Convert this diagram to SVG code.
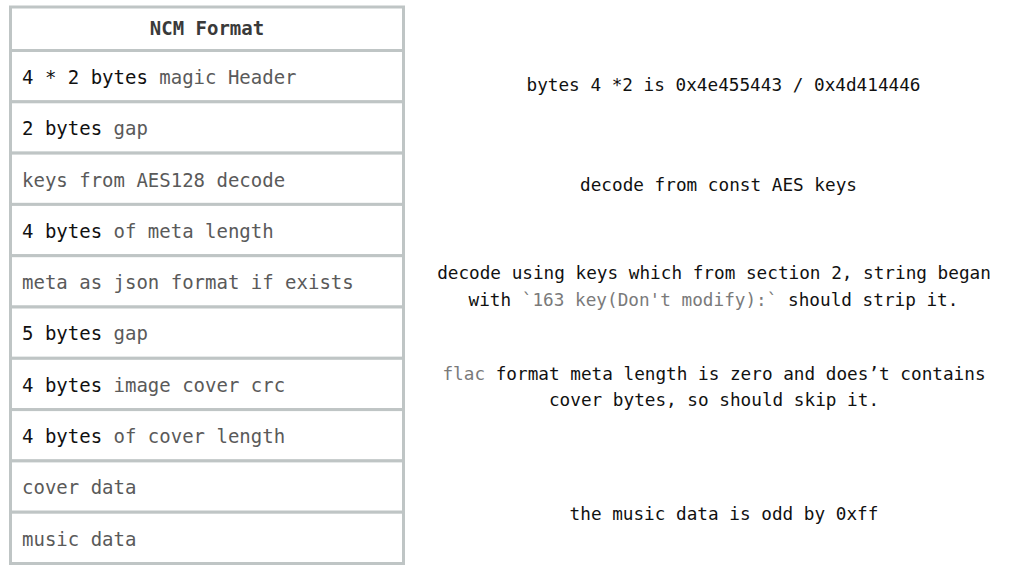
<svg xmlns="http://www.w3.org/2000/svg" width="1016" height="576" viewBox="0 0 1016 576">
<style>
  .cell { fill: #ffffff; stroke: #bfc5c5; stroke-width: 3; }
  .lt { font-family: "DejaVu Sans Mono", "Liberation Mono", monospace; font-size: 19px; fill: #5a5a5a; white-space: pre; }
  .k { fill: #111111; }
  .hd { font-family: "DejaVu Sans Mono", "Liberation Mono", monospace; font-size: 19px; font-weight: bold; fill: #3a3a3a; }
  .rt { font-family: "DejaVu Sans Mono", "Liberation Mono", monospace; font-size: 17.7px; fill: #111111; text-anchor: middle; white-space: pre; }
  .g { fill: #7a7a7a; }
</style>
<rect width="1016" height="576" fill="#ffffff"/>
<g id="table">
  <g id="header"><rect class="cell" x="10.5" y="7" width="393" height="43.5"/><text class="hd" x="207" y="35" text-anchor="middle">NCM Format</text></g>
  <g id="row1"><rect class="cell" x="10.5" y="50.5" width="393" height="51.3"/><text class="lt" x="22" y="84"><tspan class="k">4 * 2 bytes</tspan> magic Header</text></g>
  <g id="row2"><rect class="cell" x="10.5" y="101.8" width="393" height="51.3"/><text class="lt" x="22" y="135"><tspan class="k">2 bytes</tspan> gap</text></g>
  <g id="row3"><rect class="cell" x="10.5" y="153.1" width="393" height="51.3"/><text class="lt" x="22" y="187">keys from AES128 decode</text></g>
  <g id="row4"><rect class="cell" x="10.5" y="204.4" width="393" height="51.3"/><text class="lt" x="22" y="238"><tspan class="k">4 bytes</tspan> of meta length</text></g>
  <g id="row5"><rect class="cell" x="10.5" y="255.7" width="393" height="51.3"/><text class="lt" x="22" y="289">meta as json format if exists</text></g>
  <g id="row6"><rect class="cell" x="10.5" y="307" width="393" height="51.3"/><text class="lt" x="22" y="340"><tspan class="k">5 bytes</tspan> gap</text></g>
  <g id="row7"><rect class="cell" x="10.5" y="358.3" width="393" height="51.3"/><text class="lt" x="22" y="392"><tspan class="k">4 bytes</tspan> image cover crc</text></g>
  <g id="row8"><rect class="cell" x="10.5" y="409.6" width="393" height="51.3"/><text class="lt" x="22" y="443"><tspan class="k">4 bytes</tspan> of cover length</text></g>
  <g id="row9"><rect class="cell" x="10.5" y="460.9" width="393" height="51.3"/><text class="lt" x="22" y="494">cover data</text></g>
  <g id="row10"><rect class="cell" x="10.5" y="512.2" width="393" height="51.3"/><text class="lt" x="22" y="546">music data</text></g>
</g>
<g id="notes">
  <g id="note1"><text class="rt" x="723.5" y="91">bytes 4 *2 is 0x4e455443 / 0x4d414446</text></g>
  <g id="note2"><text class="rt" x="718.5" y="191">decode from const AES keys</text></g>
  <g id="note3">
    <text class="rt" x="714" y="279">decode using keys which from section 2, string began</text>
    <text class="rt" x="713.5" y="306">with <tspan class="g">`163 key(Don't modify):`</tspan> should strip it.</text>
  </g>
  <g id="note4">
    <text class="rt" x="714" y="380"><tspan class="g">flac</tspan> format meta length is zero and does’t contains</text>
    <text class="rt" x="714" y="406">cover bytes, so should skip it.</text>
  </g>
  <g id="note5"><text class="rt" x="724" y="520">the music data is odd by 0xff</text></g>
</g>
<g id="connectors"></g>
</svg>
